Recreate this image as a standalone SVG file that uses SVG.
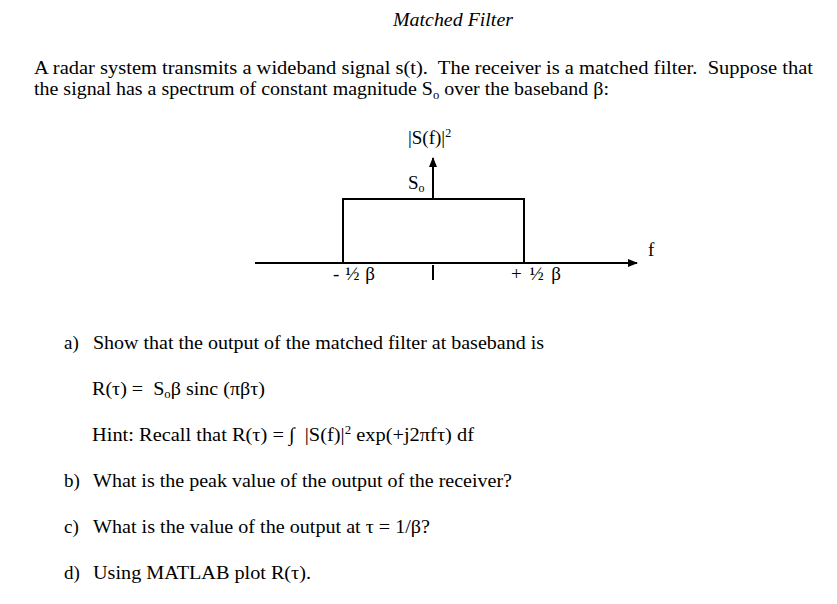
<svg xmlns="http://www.w3.org/2000/svg" width="837" height="604" viewBox="0 0 837 604">
<style>text{font-family:"Liberation Serif","Times New Roman",serif;font-size:19px;fill:#000;white-space:pre}.s{font-size:12px}.ln{stroke:#000;stroke-width:2;fill:none}</style>
<defs><marker id="a" markerWidth="10" markerHeight="8" refX="9" refY="4" orient="auto" markerUnits="userSpaceOnUse"><path d="M0,0L10,4L0,8z"/></marker></defs>
<rect width="837" height="604" fill="#fff"/>
<text x="393" y="26" font-style="italic" textLength="120" lengthAdjust="spacingAndGlyphs">Matched Filter</text>
<text x="34" y="74" textLength="779" lengthAdjust="spacingAndGlyphs">A radar system transmits a wideband signal s(t).  The receiver is a matched filter.  Suppose that</text>
<text x="34" y="95" textLength="575" lengthAdjust="spacingAndGlyphs">the signal has a spectrum of constant magnitude S<tspan class="s" dy="4">o</tspan><tspan dy="-4"> over the baseband β:</tspan></text>
<g id="graph">
<line class="ln" x1="255" y1="263" x2="637" y2="263" marker-end="url(#a)"/>
<polyline class="ln" points="343,263 343,199 524,199 524,263"/>
<line class="ln" x1="433" y1="199" x2="433" y2="158" marker-end="url(#a)"/>
<line class="ln" x1="433" y1="265" x2="433" y2="280"/>
<text x="408" y="144">|S(f)|<tspan class="s" dy="-7">2</tspan></text>
<text x="408" y="189">S<tspan class="s" dy="3">o</tspan></text>
<text x="648" y="256">f</text>
<text x="333" y="280" textLength="42">- ½ β</text>
<text x="511" y="280" textLength="50">+ ½ β</text>
</g>
<text x="64" y="349">a)</text><text x="93" y="349" textLength="451" lengthAdjust="spacingAndGlyphs">Show that the output of the matched filter at baseband is</text>
<text x="92" y="395" textLength="173" lengthAdjust="spacingAndGlyphs">R(τ) =  S<tspan class="s" dy="3">o</tspan><tspan dy="-3">β sinc (πβτ)</tspan></text>
<text x="92" y="441" textLength="382" lengthAdjust="spacingAndGlyphs">Hint: Recall that R(τ) = ∫  |S(f)|<tspan class="s" dy="-7">2</tspan><tspan dy="7"> exp(+j2πfτ) df</tspan></text>
<text x="64" y="487">b)</text><text x="93" y="487" textLength="419" lengthAdjust="spacingAndGlyphs">What is the peak value of the output of the receiver?</text>
<text x="64" y="533">c)</text><text x="93" y="533" textLength="337" lengthAdjust="spacingAndGlyphs">What is the value of the output at τ = 1/β?</text>
<text x="64" y="579">d)</text><text x="93" y="579" textLength="218" lengthAdjust="spacingAndGlyphs">Using MATLAB plot R(τ).</text>
</svg>
